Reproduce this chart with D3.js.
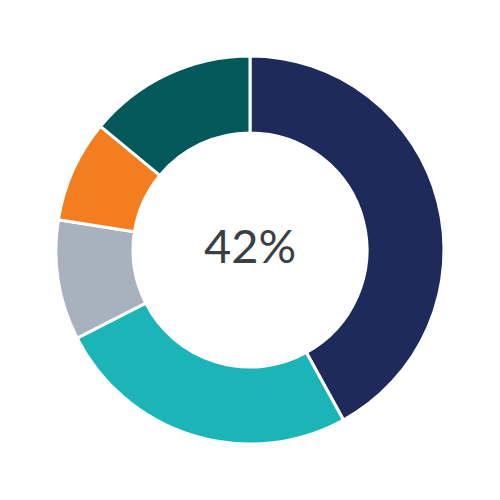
<!DOCTYPE html>
<html>
<head>
<meta charset="utf-8">
<script src="https://cdn.jsdelivr.net/npm/d3@7"></script>
<style>
  html, body { margin: 0; padding: 0; background: #fff; }
  svg { display: block; }
</style>
</head>
<body>
<svg id="chart" width="500" height="500"></svg>
<script>
(function () {
  'use strict';

  // Slice data, clockwise from 12 o'clock
  const categories = ['A', 'B', 'C', 'D', 'E'];
  const values = [42, 25.5, 10, 8.5, 14];
  const colors = ['#1e2b5a', '#1bb5b8', '#a8b2bf', '#f27e20', '#03585a'];
  const centerLabel = '42%';

  const chart = d3.select('#chart');
  const g = chart.append('g').attr('transform', 'translate(250,250)');

  const pie = d3.pie().sort(null).value(d => d.value);
  const arc = d3.arc().innerRadius(117).outerRadius(194);

  const data = categories.map((c, i) => ({ name: c, value: values[i], color: colors[i] }));

  g.selectAll('path').data(pie(data))
    .enter().append('path')
    .attr('d', arc)
    .attr('fill', d => d.data.color)
    .attr('stroke', '#fff')
    .attr('stroke-width', 3);

  g.append('text')
    .attr('text-anchor', 'middle')
    .attr('y', 13)
    .attr('font-family', 'Lato, "Open Sans", sans-serif')
    .attr('font-size', 47)
    .attr('fill', '#3a3f45')
    .text(centerLabel);
}());
</script>
</body>
</html>
